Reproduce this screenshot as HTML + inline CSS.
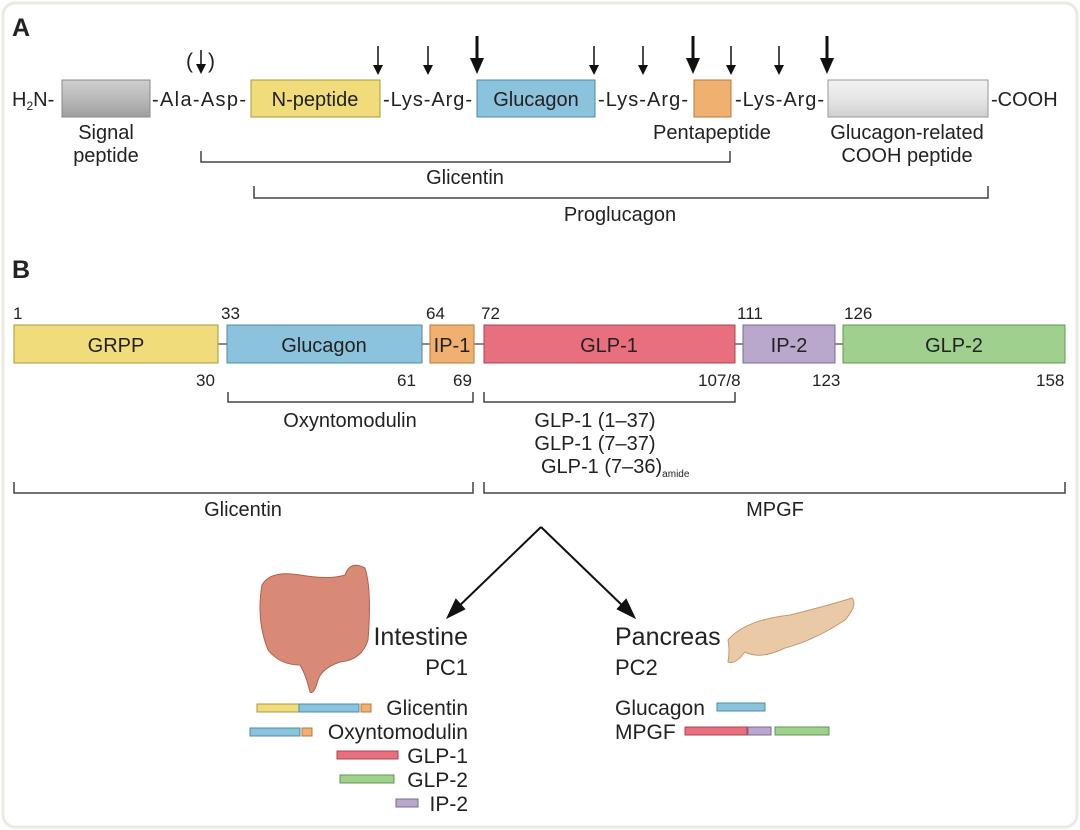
<!DOCTYPE html>
<html><head><meta charset="utf-8"><style>
html,body{margin:0;padding:0;background:#fff;}
svg{display:block;font-family:"Liberation Sans",Arial,sans-serif;}
</style></head><body>
<svg width="1080" height="830" viewBox="0 0 1080 830" xmlns="http://www.w3.org/2000/svg">
<defs>
<linearGradient id="gy" x1="0" y1="0" x2="0" y2="1"><stop offset="0" stop-color="#cfcfcf"/><stop offset=".5" stop-color="#b9b9b9"/><stop offset="1" stop-color="#9f9f9f"/></linearGradient>
<linearGradient id="gw" x1="0" y1="0" x2="0" y2="1"><stop offset="0" stop-color="#f2f2f2"/><stop offset=".5" stop-color="#e6e6e6"/><stop offset="1" stop-color="#d0d0d0"/></linearGradient>
<marker id="ah" markerWidth="10" markerHeight="10" refX="8" refY="5" orient="auto" markerUnits="userSpaceOnUse"><path d="M0,0 L10,5 L0,10 Z" fill="#111"/></marker>
</defs>
<rect x="3" y="3" width="1074" height="824" rx="12" fill="#fff" stroke="#ece9e2" stroke-width="3"/>
<g font-size="20" fill="#222">
<text x="12" y="36" font-size="25" font-weight="bold">A</text>
<text x="12" y="278" font-size="25" font-weight="bold">B</text>
<!-- Panel A -->
<text x="12" y="106">H<tspan font-size="12" dy="4">2</tspan><tspan dy="-4">N-</tspan></text>
<rect x="62" y="80" width="88" height="37" fill="url(#gy)" stroke="#888"/>
<text x="152" y="106" textLength="94">-Ala-Asp-</text>
<rect x="251" y="80" width="129" height="37" fill="#f0dc7a" stroke="#a89a40"/>
<text x="315" y="106" text-anchor="middle">N-peptide</text>
<text x="383" y="106" textLength="89">-Lys-Arg-</text>
<rect x="477" y="80" width="118" height="37" fill="#8cc3dc" stroke="#4e8aa6"/>
<text x="536" y="106" text-anchor="middle">Glucagon</text>
<text x="598" y="106" textLength="90">-Lys-Arg-</text>
<rect x="694" y="80" width="37" height="37" fill="#f0b070" stroke="#b57a3e"/>
<text x="735" y="106" textLength="89">-Lys-Arg-</text>
<rect x="828" y="80" width="160" height="37" fill="url(#gw)" stroke="#999"/>
<text x="991" y="106">-COOH</text>
<text x="106" y="139" text-anchor="middle">Signal</text>
<text x="106" y="162" text-anchor="middle">peptide</text>
<text x="712" y="139" text-anchor="middle">Pentapeptide</text>
<text x="907" y="139" text-anchor="middle">Glucagon-related</text>
<text x="907" y="162" text-anchor="middle">COOH peptide</text>
<text x="186" y="68" font-size="21">(</text><text x="208" y="68" font-size="21">)</text>
<g stroke="#111" stroke-width="1.5" fill="none">
<line x1="201" y1="50" x2="201" y2="72" marker-end="url(#ah)"/>
<line x1="378" y1="46" x2="378" y2="73" marker-end="url(#ah)"/>
<line x1="428" y1="46" x2="428" y2="73" marker-end="url(#ah)"/>
<line x1="594" y1="46" x2="594" y2="73" marker-end="url(#ah)"/>
<line x1="643" y1="46" x2="643" y2="73" marker-end="url(#ah)"/>
<line x1="731" y1="46" x2="731" y2="73" marker-end="url(#ah)"/>
<line x1="779" y1="46" x2="779" y2="73" marker-end="url(#ah)"/>
</g>
<g stroke="#111" stroke-width="3" fill="none">
<line x1="477" y1="36" x2="477" y2="64"/><path d="M470,58 L477,74 L484,58 Z" fill="#111" stroke="none"/>
<line x1="693" y1="36" x2="693" y2="64"/><path d="M686,58 L693,74 L700,58 Z" fill="#111" stroke="none"/>
<line x1="827" y1="36" x2="827" y2="64"/><path d="M820,58 L827,74 L834,58 Z" fill="#111" stroke="none"/>
</g>
<g stroke="#444" stroke-width="1.5" fill="none">
<path d="M201,151 V162 H730 V151"/>
<path d="M254,186 V198 H988 V186"/>
<path d="M228,392 V402 H473 V392"/>
<path d="M484,392 V402 H735 V392"/>
<path d="M14,482 V493 H473 V482"/>
<path d="M484,482 V493 H1065 V482"/>
</g>
<text x="465" y="184" text-anchor="middle">Glicentin</text>
<text x="620" y="221" text-anchor="middle">Proglucagon</text>
<!-- Panel B -->
<line x1="14" y1="344" x2="1065" y2="344" stroke="#666" stroke-width="1.5"/>
<rect x="14" y="325" width="204" height="38" fill="#f0dc7a" stroke="#a89a40"/>
<text x="116" y="352" text-anchor="middle">GRPP</text>
<rect x="227" y="325" width="195" height="38" fill="#8cc3dc" stroke="#4e8aa6"/>
<text x="324" y="352" text-anchor="middle">Glucagon</text>
<rect x="430" y="325" width="44" height="38" fill="#f0b070" stroke="#b57a3e"/>
<text x="452" y="352" text-anchor="middle">IP-1</text>
<rect x="484" y="325" width="251" height="38" fill="#e8707e" stroke="#a84450"/>
<text x="609" y="352" text-anchor="middle">GLP-1</text>
<rect x="743" y="325" width="92" height="38" fill="#b9a8cc" stroke="#7c6a92"/>
<text x="789" y="352" text-anchor="middle">IP-2</text>
<rect x="843" y="325" width="222" height="38" fill="#9fd08e" stroke="#5e9a4e"/>
<text x="954" y="352" text-anchor="middle">GLP-2</text>
<g font-size="17">
<text x="13" y="319">1</text><text x="221" y="319">33</text><text x="426" y="319">64</text><text x="481" y="319">72</text><text x="737" y="319">111</text><text x="844" y="319">126</text>
<text x="196" y="386">30</text><text x="397" y="386">61</text><text x="453" y="386">69</text><text x="698" y="386">107/8</text><text x="812" y="386">123</text><text x="1036" y="386">158</text>
</g>
<text x="350" y="427" text-anchor="middle">Oxyntomodulin</text>
<text x="595" y="427" text-anchor="middle">GLP-1 (1–37)</text>
<text x="595" y="450" text-anchor="middle">GLP-1 (7–37)</text>
<text x="541" y="473">GLP-1 (7–36)<tspan font-size="10" dy="4">amide</tspan></text>
<text x="243" y="516" text-anchor="middle">Glicentin</text>
<text x="775" y="516" text-anchor="middle">MPGF</text>
<g stroke="#111" stroke-width="2">
<line x1="541" y1="527" x2="455" y2="610"/><path d="M448,617 L456,600 L464,609 Z" fill="#111"/>
<line x1="541" y1="527" x2="627" y2="610"/><path d="M634,617 L618,609 L626,600 Z" fill="#111"/>
</g>
<!-- organs -->
<path d="M262,585 Q270,570 300,575 Q330,580 345,575 Q350,560 365,568 Q372,590 368,640 Q362,660 340,662 Q322,668 318,680 Q314,695 310,692 Q306,675 300,665 Q280,665 268,650 Q256,620 262,585 Z" fill="#d98a76" stroke="#b0604c"/>
<path d="M728,640 Q745,620 790,615 Q830,605 852,598 Q858,605 845,620 Q815,640 785,648 Q760,660 745,652 Q735,665 728,662 Q730,650 728,640 Z" fill="#eac9a6" stroke="#c49a72"/>
<text x="468" y="645" text-anchor="end" font-size="25">Intestine</text>
<text x="468" y="675" text-anchor="end" font-size="22">PC1</text>
<text x="615" y="645" font-size="25">Pancreas</text>
<text x="615" y="675" font-size="22">PC2</text>
<g font-size="21">
<text x="468" y="715" text-anchor="end">Glicentin</text>
<text x="468" y="739" text-anchor="end">Oxyntomodulin</text>
<text x="468" y="763" text-anchor="end">GLP-1</text>
<text x="468" y="787" text-anchor="end">GLP-2</text>
<text x="468" y="811" text-anchor="end">IP-2</text>
<text x="615" y="715">Glucagon</text>
<text x="615" y="739">MPGF</text>
</g>
<g stroke-width="1">
<rect x="257" y="704" width="42" height="8" fill="#f0dc7a" stroke="#a89a40"/>
<rect x="299" y="704" width="60" height="8" fill="#8cc3dc" stroke="#4e8aa6"/>
<rect x="361" y="704" width="10" height="8" fill="#f0b070" stroke="#b57a3e"/>
<rect x="250" y="728" width="50" height="8" fill="#8cc3dc" stroke="#4e8aa6"/>
<rect x="302" y="728" width="10" height="8" fill="#f0b070" stroke="#b57a3e"/>
<rect x="337" y="751" width="61" height="8" fill="#e8707e" stroke="#a84450"/>
<rect x="340" y="775" width="54" height="8" fill="#9fd08e" stroke="#5e9a4e"/>
<rect x="396" y="799" width="22" height="8" fill="#b9a8cc" stroke="#7c6a92"/>
<rect x="717" y="703" width="48" height="8" fill="#8cc3dc" stroke="#4e8aa6"/>
<rect x="685" y="727" width="62" height="8" fill="#e8707e" stroke="#a84450"/>
<rect x="748" y="727" width="23" height="8" fill="#b9a8cc" stroke="#7c6a92"/>
<rect x="775" y="727" width="54" height="8" fill="#9fd08e" stroke="#5e9a4e"/>
</g>
</g>
</svg>
</body></html>
